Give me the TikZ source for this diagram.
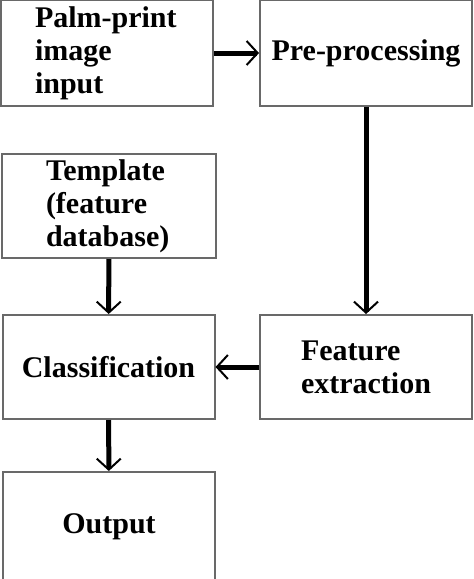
\documentclass[tikz,border=0pt]{standalone}
\usepackage{fontspec}
\setmainfont{Liberation Serif}
\usepackage{xcolor}
\usepackage{tikz}
\usetikzlibrary{arrows.meta, positioning}

\definecolor{boxgray}{RGB}{105,105,105}

\begin{document}
\begin{tikzpicture}[x=1pt, y=-1pt,
    blockbox/.style={draw=boxgray, line width=2pt, minimum width=212pt, minimum height=106pt,
        font=\fontsize{30}{33}\selectfont\bfseries},
    flowarrow/.style={line width=5pt, -{Straight Barb[length=11pt, width=24pt, line width=2pt]}}]
    \useasboundingbox (0,0) rectangle (474,579);

    % Top row
    \node[blockbox, align=left, inner xsep=34pt, text width=144pt] (input) at (107, 53) {Palm-print\\image\\input};
    \node[blockbox, align=center] (prep) at (366, 53) {Pre-processing};

    % Feature database
    \node[blockbox, align=left, inner xsep=44pt, text width=126pt, minimum height=104pt] (templ) at (109, 206) {Template\\(feature\\database)};

    % Middle row
    \node[blockbox, align=center, minimum height=104pt] (classif) at (108.5, 367) {Classification};
    \node[blockbox, align=left, inner xsep=41pt, text width=130pt, minimum height=104pt] (featx) at (366, 367) {Feature\\extraction};

    % Result
    \node[blockbox, align=center, minimum height=110pt] (outp) at (109, 527) {Output};

    % Flow
    \draw[flowarrow] (input) -- (prep);
    \draw[flowarrow] (prep) -- (featx);
    \draw[flowarrow] (featx) -- (classif);
    \draw[flowarrow] (templ) -- (classif);
    \draw[flowarrow] (classif) -- (outp);
\end{tikzpicture}
\end{document}
